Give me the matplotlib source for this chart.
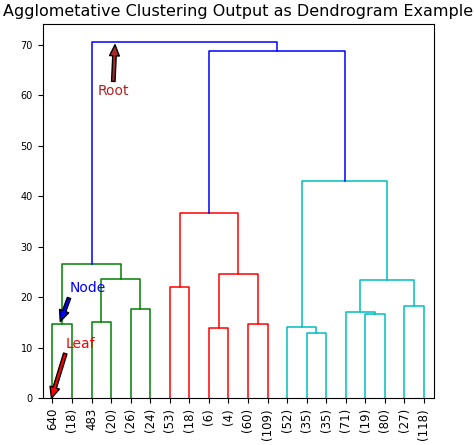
import matplotlib
matplotlib.use("Agg")
import matplotlib.pyplot as plt

leaf_labels = ['640', '(18)', '483', '(20)', '(26)', '(24)', '(53)', '(18)', '(6)', '(4)',
               '(60)', '(109)', '(52)', '(35)', '(35)', '(71)', '(19)', '(80)', '(27)', '(118)']
# merges: (left id, right id, height, colour); new ids start at len(leaf_labels)
merge_a = [0, 2, 4, 21, 20, 6, 8, 10, 26, 25, 13, 12, 16, 15, 18, 33, 31, 29, 24]
merge_b = [1, 3, 5, 22, 23, 7, 9, 11, 27, 28, 14, 30, 17, 32, 19, 34, 35, 36, 37]
merge_h = [14.8, 15.1, 17.6, 23.6, 26.5, 22.0, 14.0, 14.8, 24.7, 36.7,
           13.0, 14.1, 16.6, 17.0, 18.3, 23.4, 43.0, 68.8, 70.5]
merge_c = ['g'] * 5 + ['r'] * 5 + ['c'] * 7 + ['b'] * 2

fig, ax = plt.subplots(figsize=(4.74, 4.45), dpi=100)

n = len(leaf_labels)
xs = {i: 5 + 10 * i for i in range(n)}
ys = {i: 0.0 for i in range(n)}
for k, (a, b, h, c) in enumerate(zip(merge_a, merge_b, merge_h, merge_c)):
    ax.plot([xs[a], xs[a], xs[b], xs[b]], [ys[a], h, h, ys[b]], color=c, lw=1.1)
    xs[n + k] = (xs[a] + xs[b]) / 2
    ys[n + k] = h

ax.set_xlim(0, 10 * n)
ax.set_ylim(0, 74)
ax.set_xticks([xs[i] for i in range(n)])
ax.set_xticklabels(leaf_labels, rotation=90, fontsize=8.5)
ax.tick_params(axis='y', labelsize=7)
ax.set_title('Agglometative Clustering Output as Dendrogram Example', fontsize=11.5)

arrow = dict(width=2.5, headwidth=7, headlength=8, edgecolor='black')
ax.annotate('Root', xy=(37, 70), xytext=(28, 60), color='#b22222', fontsize=10,
            arrowprops=dict(facecolor='#a52a2a', **arrow))
ax.annotate('Node', xy=(9, 15.2), xytext=(14, 21), color='blue', fontsize=10,
            arrowprops=dict(facecolor='blue', **arrow))
ax.annotate('Leaf', xy=(4.5, 0), xytext=(12, 10), color='red', fontsize=10,
            arrowprops=dict(facecolor='red', **arrow))

fig.subplots_adjust(left=0.09, right=0.915, top=0.945, bottom=0.105)
fig.savefig('out.png')
